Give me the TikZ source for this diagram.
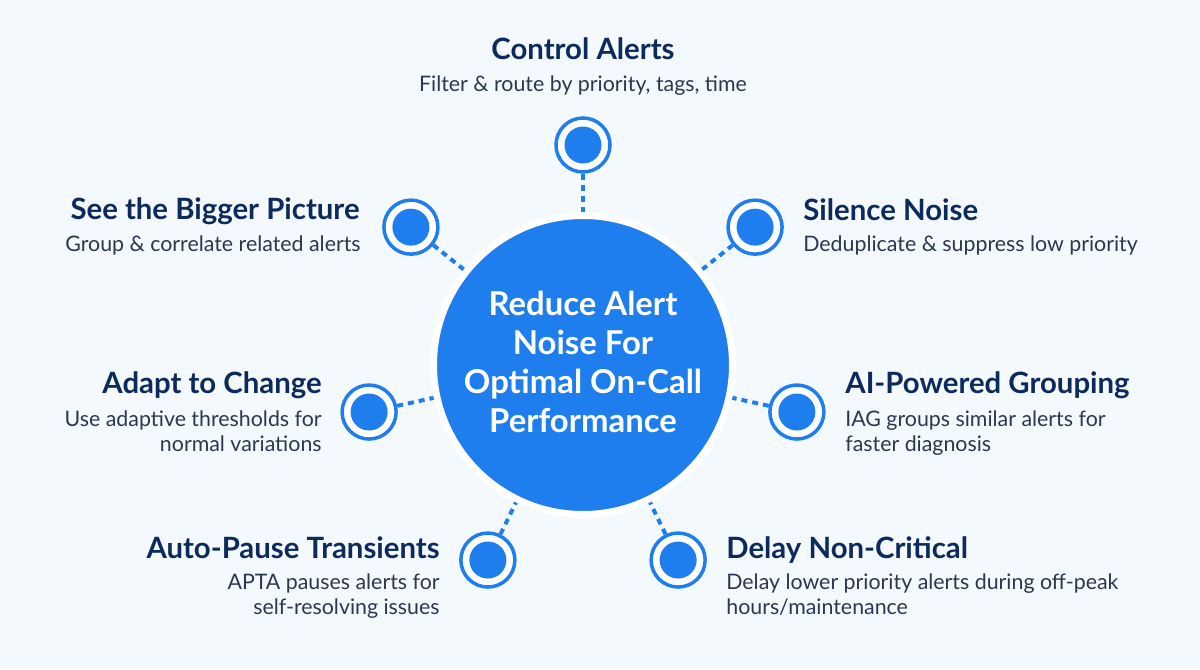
\documentclass[tikz,border=0pt]{standalone}
\usepackage{fontspec}
\setmainfont{Lato}
\definecolor{hubblue}{HTML}{1F7EEE}
\definecolor{pagebg}{HTML}{F4F9FE}
\definecolor{headnavy}{HTML}{0C2B5C}
\definecolor{subgrey}{HTML}{2A3850}
\tikzset{
  hub/.style={circle,fill=hubblue,draw=white,line width=0.14cm,minimum size=5.98cm,inner sep=0pt},
  hubtext/.style={text=white,align=center,inner sep=0pt,font=\fontsize{18.7}{22.2}\selectfont\bfseries},
  ring/.style={circle,draw=hubblue,fill=white,line width=0.07cm,minimum size=1.08cm,inner sep=0pt,
    path picture={\fill[hubblue] (path picture bounding box.center) circle (0.37);}},
  head/.style={text=headnavy,inner sep=0pt,font=\fontsize{16.7}{18}\selectfont\bfseries},
  sub/.style={text=subgrey,inner sep=0pt,font=\fontsize{12.15}{14.2}\selectfont},
  link/.style={draw=hubblue,line width=0.08cm,dash pattern=on 0.12cm off 0.1cm}
}
\begin{document}
\begin{tikzpicture}
      \fill[pagebg] (-11.66,7.3) rectangle (12.34,-6.08);
      \useasboundingbox (-11.66,7.3) rectangle (12.34,-6.08);
      \node[hub] (hub) at (0,0) {};
      \node[hubtext] (hubtitle) at (0,0.07) {Reduce Alert\\Noise For\\Optimal On-Call\\Performance};
      \draw
        (90.0:4.4) node[ring] (control){}
        (38.7:4.41) node[ring] (silence){}
        (-12.4:4.38) node[ring] (grouping){}
        (-64.0:4.34) node[ring] (delay){}
        (244.0:4.34) node[ring] (pause){}
        (192.4:4.38) node[ring] (adapt){}
        (141.3:4.41) node[ring] (bigger){};
      \begin{scope}[link]
        \draw (control) to (hub);
        \draw (silence) to (hub);
        \draw (grouping) to (hub);
        \draw (delay) to (hub);
        \draw (pause) to (hub);
        \draw (adapt) to (hub);
        \draw (bigger) to (hub);
      \end{scope}
      % top
      \node[head,anchor=base] (controlhead) at (0,6.12) {Control Alerts};
      \node[sub,anchor=base] (controlsub) at (0,5.48) {Filter \& route by priority, tags, time};
      % right side
      \node[head,anchor=base west] (silencehead) at (4.4,2.9) {Silence Noise};
      \node[sub,anchor=base west] (silencesub) at (4.4,2.28) {Deduplicate \& suppress low priority};
      \node[head,anchor=base west] (groupinghead) at (5.24,-0.56) {AI-Powered Grouping};
      \node[sub,anchor=north west,align=left] (groupingsub) at (5.24,-0.9) {IAG groups similar alerts for\\faster diagnosis};
      \node[head,anchor=base west] (delayhead) at (2.86,-3.86) {Delay Non-Critical};
      \node[sub,anchor=north west,align=left] (delaysub) at (2.86,-4.17) {Delay lower priority alerts during off-peak\\hours/maintenance};
      % left side
      \node[head,anchor=base east] (biggerhead) at (-4.46,2.92) {See the Bigger Picture};
      \node[sub,anchor=base east] (biggersub) at (-4.44,2.28) {Group \& correlate related alerts};
      \node[head,anchor=base east] (adapthead) at (-5.22,-0.56) {Adapt to Change};
      \node[sub,anchor=north east,align=right] (adaptsub) at (-5.22,-0.9) {Use adaptive thresholds for\\normal variations};
      \node[head,anchor=base east] (pausehead) at (-2.86,-3.86) {Auto-Pause Transients};
      \node[sub,anchor=north east,align=right] (pausesub) at (-2.86,-4.17) {APTA pauses alerts for\\self-resolving issues};
    \end{tikzpicture}
\end{document}
